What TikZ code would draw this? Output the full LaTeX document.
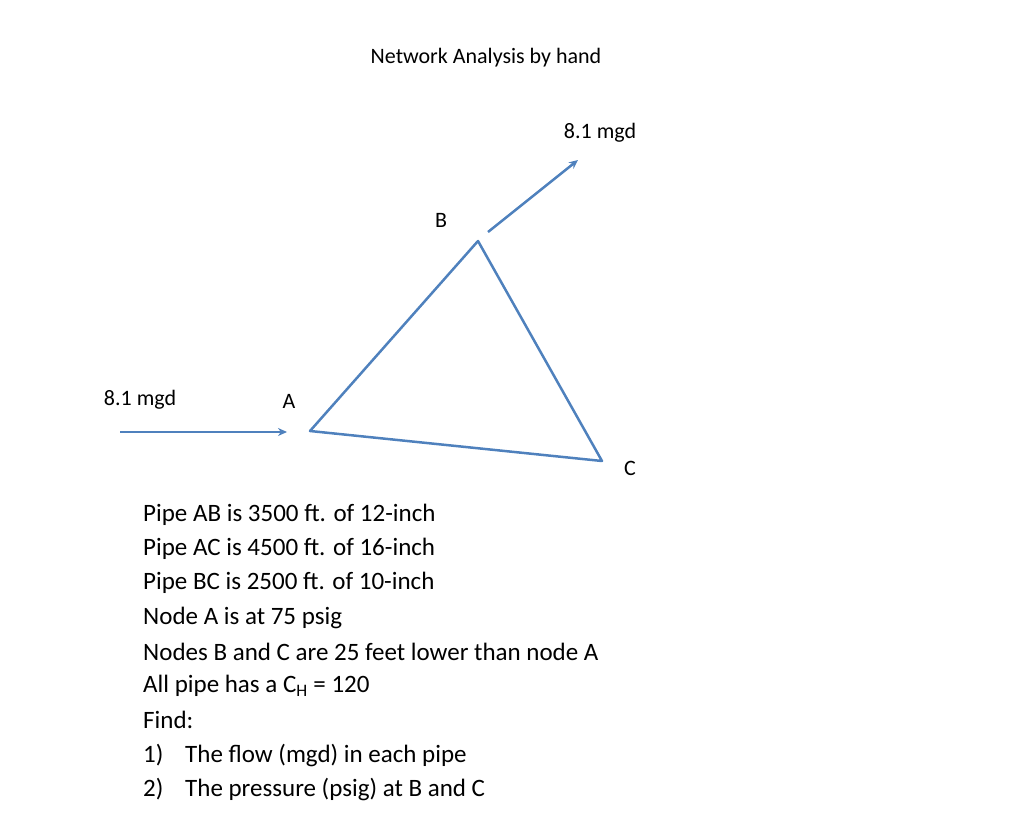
\documentclass[tikz,border=0pt]{standalone}
\usepackage{fontspec}
\setmainfont{Carlito}
\usetikzlibrary{arrows.meta}
\definecolor{pipe}{RGB}{79,129,189}
\tikzset{pipeline/.style={draw=pipe,line width=2.5pt},
 flow/.style={pipeline,-{Stealth[length=9pt,width=8pt]}},
 lbl/.style={font=\fontsize{22}{26}\selectfont,inner sep=0pt},
 body/.style={font=\fontsize{25}{34.3}\selectfont,inner sep=0pt,anchor=west}}
\begin{document}
\begin{tikzpicture}[x=1pt,y=-1pt]
\useasboundingbox (0,0) rectangle (1024,829);
\node[lbl] (title) at (486,58) {Network Analysis by hand};
\coordinate (A) at (310,431);
\coordinate (B) at (478,241);
\coordinate (C) at (602,461);
\coordinate (inS) at (120,432);
\coordinate (inE) at (287,432);
\coordinate (outS) at (488,232);
\coordinate (outE) at (578,160);
\draw[pipeline,line join=round] (A) -- (B) -- (C) -- cycle;
\draw[flow] (inS) -- (inE);
\draw[flow] (outS) -- (outE);
\node[lbl] (qout) at (600,133) {8.1 mgd};
\node[lbl] (qin) at (140,400) {8.1 mgd};
\node[lbl] (la) at (289,401) {A};
\node[lbl] (lb) at (441,220) {B};
\node[lbl] (lc) at (630,468) {C};
\node[body] (t1) at (143,515) {Pipe AB is 3500 ft. of 12-inch};
\node[body] (t2) at (143,549) {Pipe AC is 4500 ft. of 16-inch};
\node[body] (t3) at (143,583) {Pipe BC is 2500 ft. of 10-inch};
\node[body] (t4) at (143,618) {Node A is at 75 psig};
\node[body] (t5) at (143,652) {Nodes B and C are 25 feet lower than node A};
\node[body] (t6) at (143,686) {All pipe has a C\textsubscript{H} = 120};
\node[body] (t7) at (143,720) {Find:};
\node[body] (n1) at (143,755) {1)};
\node[body] (t8) at (185,755) {The flow (mgd) in each pipe};
\node[body] (n2) at (143,789) {2)};
\node[body] (t9) at (185,789) {The pressure (psig) at B and C};
\end{tikzpicture}
\end{document}
